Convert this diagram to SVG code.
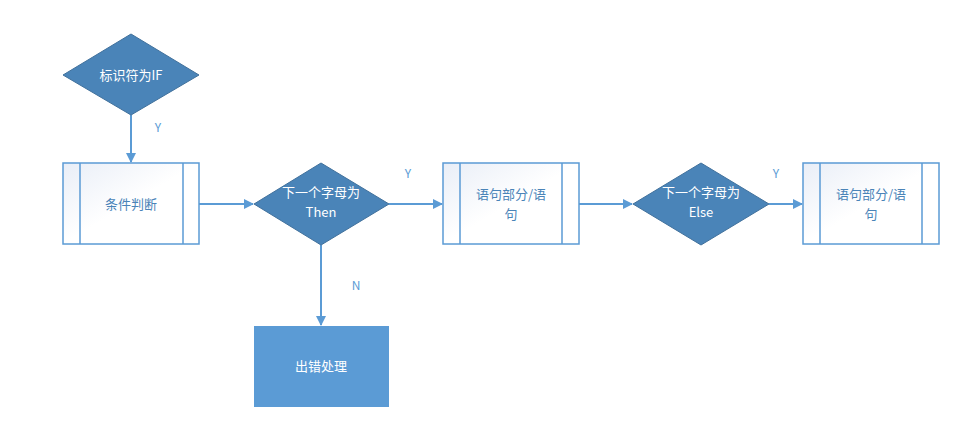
<svg xmlns="http://www.w3.org/2000/svg" width="961" height="442" viewBox="0 0 961 442">
<defs>
<linearGradient id="g" x1="0" y1="0" x2="1" y2="1"><stop offset="0" stop-color="#e9eef7"/><stop offset="0.5" stop-color="#ffffff"/><stop offset="1" stop-color="#ffffff"/></linearGradient>
<marker id="a" markerWidth="10" markerHeight="10" refX="9" refY="5" orient="auto" markerUnits="userSpaceOnUse"><path d="M0,0 L10,5 L0,10 z" fill="#5b9bd5"/></marker>
</defs>
<style>
text{font-family:"Noto Sans CJK SC","Noto Sans",sans-serif;font-size:13px;text-anchor:middle}
.d{fill:#4a84b8;stroke:#41719c;stroke-width:1}
.dt{fill:#ffffff}
.b{fill:url(#g);stroke:#5b9bd5;stroke-width:1.5}
.bl{stroke:#5b9bd5;stroke-width:1.5}
.bt{fill:#4a84b8}
.c{stroke:#5b9bd5;stroke-width:2;fill:none;marker-end:url(#a)}
.l{fill:#5b9bd5;font-size:12px}
</style>
<rect width="961" height="442" fill="#ffffff"/>
<g id="connectors">
<path class="c" d="M131,115 V162"/>
<path class="c" d="M199,204 H253"/>
<path class="c" d="M389,204 H442"/>
<path class="c" d="M579,204 H632"/>
<path class="c" d="M769,204 H802"/>
<path class="c" d="M321,245 V325"/>
<text class="l" x="158" y="132">Y</text>
<text class="l" x="408" y="178">Y</text>
<text class="l" x="776" y="178">Y</text>
<text class="l" x="356" y="290">N</text>
</g>
<g id="n1"><polygon class="d" points="131,34 199,75 131,115 63,75"/><text class="dt" x="131" y="80">标识符为IF</text></g>
<g id="n2"><rect class="b" x="63" y="163" width="136" height="81"/><path class="bl" d="M80,163V244M183,163V244"/><text class="bt" x="131" y="209">条件判断</text></g>
<g id="n3"><polygon class="d" points="321,163 389,204 321,245 254,204"/><text class="dt" x="321" y="197">下一个字母为</text><text class="dt" x="321" y="217">Then</text></g>
<g id="n4"><rect class="b" x="443" y="163" width="136" height="81"/><path class="bl" d="M460,163V244M562,163V244"/><text class="bt" x="511" y="199">语句部分/语</text><text class="bt" x="511" y="219">句</text></g>
<g id="n5"><polygon class="d" points="701,163 769,204 701,245 633,204"/><text class="dt" x="701" y="197">下一个字母为</text><text class="dt" x="701" y="217">Else</text></g>
<g id="n6"><rect class="b" x="803" y="163" width="136" height="81"/><path class="bl" d="M820,163V244M922,163V244"/><text class="bt" x="871" y="199">语句部分/语</text><text class="bt" x="871" y="219">句</text></g>
<g id="n7"><rect x="254" y="326" width="135" height="81" fill="#5b9bd5"/><text class="dt" x="321" y="371">出错处理</text></g>
</svg>
